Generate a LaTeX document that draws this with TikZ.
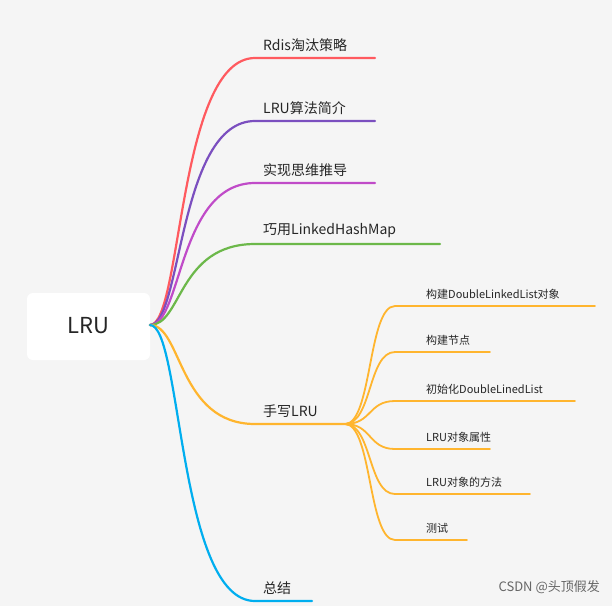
\documentclass[tikz,border=0pt]{standalone}
\usepackage{fontspec}
\setmainfont{Noto Sans CJK SC}
\begin{document}
\begin{tikzpicture}[x=1pt,y=-1pt,
  br/.style={line width=2.2pt,line cap=round},
  lab/.style={anchor=south west,inner sep=0pt,font=\fontsize{14}{16}\selectfont,text=black!85},
  slab/.style={anchor=south west,inner sep=0pt,font=\fontsize{11}{13}\selectfont,text=black!85}]
\definecolor{cR}{HTML}{FF5A5F}\definecolor{cP}{HTML}{7B4FBF}\definecolor{cM}{HTML}{C04BC8}
\definecolor{cG}{HTML}{6CB84A}\definecolor{cO}{HTML}{FFB52E}\definecolor{cC}{HTML}{00AEEF}
\fill[black!4] (0,0) rectangle (612,606);
\useasboundingbox (0,0) rectangle (612,606);
\fill[white,rounded corners=6pt] (27,293) rectangle (150,360);
\node[font=\fontsize{22}{24}\selectfont,text=black!85] (root) at (88,326) {LRU};
\coordinate (o) at (150,325);
\coordinate (h) at (345,424);
% main branches
\foreach \y/\e/\c/\n in {58/375/cR/a,121/375/cP/b,183/375/cM/c,244/440/cG/d,424/345/cO/e,601/312/cC/f}{
  \coordinate (\n s) at (255,\y); \coordinate (\n e) at (\e,\y);
  \draw[br,\c] (o) .. controls (182,325) and (178,\y) .. (\n s) -- (\n e);
}
\node[lab] (ta) at (263,52) {Rdis淘汰策略};
\node[lab] (tb) at (263,115) {LRU算法简介};
\node[lab] (tc) at (263,177) {实现思维推导};
\node[lab] (td) at (263,238) {巧用LinkedHashMap};
\node[lab] (te) at (263,418) {手写LRU};
\node[lab] (tf) at (263,595) {总结};
% sub branches
\foreach \y/\e/\n in {306/595/s1,352/490/s2,401/575/s3,449/490/s4,494/530/s5,540/467/s6}{
  \coordinate (\n a) at (395,\y); \coordinate (\n b) at (\e,\y);
  \draw[line width=1.8pt,line cap=round,cO] (h) .. controls (372,424) and (368,\y) .. (\n a) -- (\n b);
}
\node[slab] (u1) at (426,300) {构建DoubleLinkedList对象};
\node[slab] (u2) at (426,346) {构建节点};
\node[slab] (u3) at (426,395) {初始化DoubleLinedList};
\node[slab] (u4) at (426,443) {LRU对象属性};
\node[slab] (u5) at (426,488) {LRU对象的方法};
\node[slab] (u6) at (426,534) {测试};
\node[anchor=south east,inner sep=0pt,font=\fontsize{13}{15}\selectfont,text=black!60] (wm) at (600,594) {CSDN @头顶假发};
\end{tikzpicture}
\end{document}
